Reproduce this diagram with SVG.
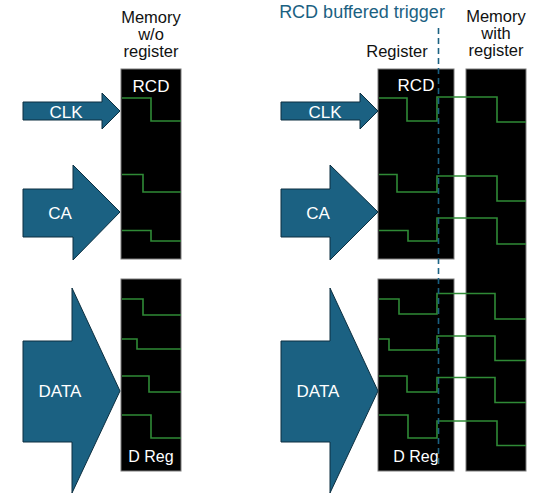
<svg xmlns="http://www.w3.org/2000/svg" width="559" height="500" viewBox="0 0 559 500">
<style>
.box{fill:#000;stroke:#7a7a7a;stroke-width:1}
.arrow{fill:#1b6182;stroke:#0c2f40;stroke-width:1}
.sig{fill:none;stroke:#2f8a36;stroke-width:1.6}
.lbl{font-family:"Liberation Sans",Arial,sans-serif;fill:#fff;text-anchor:middle}
.hdr{font-family:"Liberation Sans",Arial,sans-serif;fill:#111;font-size:16.5px;text-anchor:middle}
</style>
<rect width="559" height="500" fill="#fff"/>

<g id="hdr-left">
<text class="hdr" x="151" y="22.5">Memory</text>
<text class="hdr" x="151" y="39.5">w/o</text>
<text class="hdr" x="151" y="56.5">register</text>
</g>
<g id="hdr-right">
<text class="hdr" x="496" y="22">Memory</text>
<text class="hdr" x="496" y="39">with</text>
<text class="hdr" x="496" y="56">register</text>
<text class="hdr" x="397" y="57" font-size="17.5">Register</text>
<text x="362" y="18" font-family="'Liberation Sans',Arial,sans-serif" font-size="18" fill="#1b6182" text-anchor="middle">RCD buffered trigger</text>
</g>

<g id="rcd-left">
<rect class="box" x="121" y="69" width="60" height="190"/>
<text class="lbl" x="151" y="92" font-size="17">RCD</text>
</g>
<g id="dreg-left">
<rect class="box" x="121" y="279" width="60" height="192"/>
<text class="lbl" x="151" y="462" font-size="16">D Reg</text>
</g>
<g id="rcd-right">
<rect class="box" x="378" y="69" width="76" height="190"/>
<text class="lbl" x="416" y="91" font-size="17">RCD</text>
</g>
<g id="dreg-right">
<rect class="box" x="378" y="279" width="76" height="192"/>
<text class="lbl" x="416" y="462" font-size="16">D Reg</text>
</g>
<g id="memory-right">
<rect class="box" x="466" y="69" width="60" height="402"/>
</g>

<g id="clk-left">
<polygon class="arrow" points="23,102 102,102 102,93 120,111 102,129 102,120 23,120"/>
<text class="lbl" x="66" y="117.5" font-size="17">CLK</text>
</g>
<g id="ca-left">
<polygon class="arrow" points="23,189 73,189 73,165 120,212 73,260 73,237 23,237"/>
<text class="lbl" x="60" y="219" font-size="17">CA</text>
</g>
<g id="data-left">
<polygon class="arrow" points="23,341 72,341 72,288 120,391 72,493 72,442 23,442"/>
<text class="lbl" x="60" y="397" font-size="17">DATA</text>
</g>
<g id="clk-right">
<polygon class="arrow" points="281,102 360,102 360,93 378,111 360,129 360,120 281,120"/>
<text class="lbl" x="325" y="117.5" font-size="17">CLK</text>
</g>
<g id="ca-right">
<polygon class="arrow" points="281,189 330,189 330,165 378,212 330,260 330,237 281,237"/>
<text class="lbl" x="318" y="219" font-size="17">CA</text>
</g>
<g id="data-right">
<polygon class="arrow" points="281,341 330,341 330,288 378,391 330,493 330,442 281,442"/>
<text class="lbl" x="318" y="397" font-size="17">DATA</text>
</g>

<g id="connectors">
<polyline class="sig" points="122,98 151,98 151,121 181,121"/>
<polyline class="sig" points="122,174.5 143,174.5 143,192 181,192"/>
<polyline class="sig" points="122,230.5 151,230.5 151,241 181,241"/>
<polyline class="sig" points="122,299 143,299 143,315 181,315"/>
<polyline class="sig" points="122,339 137,339 137,349 181,349"/>
<polyline class="sig" points="122,376 149,376 149,392 181,392"/>
<polyline class="sig" points="122,415 151,415 151,438 181,438"/>

<polyline class="sig" points="379,98 407,98 407,121 437,121 437,97 497,97 497,122 526,122"/>
<polyline class="sig" points="379,174.5 397,174.5 397,192 437,192 437,176 497,176 497,201 526,201"/>
<polyline class="sig" points="379,230.5 408,230.5 408,241 437,241 437,218 497,218 497,244 526,244"/>
<polyline class="sig" points="379,299 399,299 399,314 437,314 437,293.5 495,293.5 495,319 526,319"/>
<polyline class="sig" points="379,339 389,339 389,350 437,350 437,336 495,336 495,360.5 526,360.5"/>
<polyline class="sig" points="379,376 407,376 407,392 437,392 437,377.5 495,377.5 495,402.5 526,402.5"/>
<polyline class="sig" points="379,415 408,415 408,438 437,438 437,421 497,421 497,445.5 526,445.5"/>
<line x1="438.5" y1="28" x2="438.5" y2="466" stroke="#1b6182" stroke-width="1.6" stroke-dasharray="6,4"/>
</g>
</svg>
